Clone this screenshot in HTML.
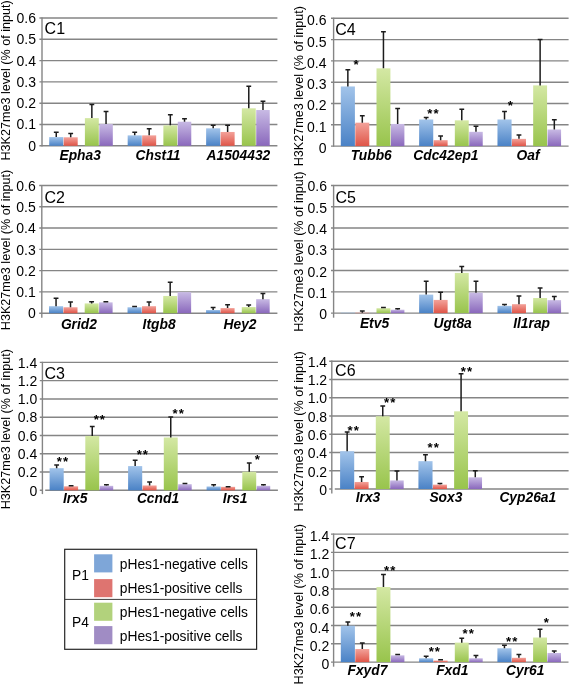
<!DOCTYPE html>
<html><head><meta charset="utf-8"><title>H3K27me3 ChIP</title>
<style>html,body{margin:0;padding:0;background:#fff;}body{width:572px;height:685px;overflow:hidden;}svg{display:block;}text{font-family:"Liberation Sans", Arial, sans-serif;fill:#000;}.tk{font-size:14px;text-anchor:end;}.lb{font-size:13.8px;font-weight:bold;font-style:italic;text-anchor:middle;fill:#000;}.yl{font-size:12.6px;text-anchor:middle;}.tt{font-size:16px;}.st{font-size:13.2px;fill:#000;font-weight:bold;letter-spacing:1.1px;}.lg{font-size:13.8px;}</style></head><body>
<svg width="572" height="685" viewBox="0 0 572 685">
<defs>
<linearGradient id="gb" x1="0" y1="0" x2="0" y2="1"><stop offset="0" stop-color="#a2c4ea"/><stop offset="1" stop-color="#4a82c6"/></linearGradient>
<linearGradient id="gr" x1="0" y1="0" x2="0" y2="1"><stop offset="0" stop-color="#f3a29a"/><stop offset="1" stop-color="#df5548"/></linearGradient>
<linearGradient id="gg" x1="0" y1="0" x2="0" y2="1"><stop offset="0" stop-color="#d4e8a4"/><stop offset="1" stop-color="#98c44c"/></linearGradient>
<linearGradient id="gp" x1="0" y1="0" x2="0" y2="1"><stop offset="0" stop-color="#c8bae4"/><stop offset="1" stop-color="#8a68bc"/></linearGradient>
</defs>
<rect width="572" height="685" fill="#fff"/>
<text class="tk" x="36" y="146.3" dy="0.32em">0</text>
<text class="tk" x="36" y="125" dy="0.32em">0.1</text>
<text class="tk" x="36" y="103.7" dy="0.32em">0.2</text>
<text class="tk" x="36" y="82.4" dy="0.32em">0.3</text>
<text class="tk" x="36" y="61.1" dy="0.32em">0.4</text>
<text class="tk" x="36" y="39.8" dy="0.32em">0.5</text>
<text class="tk" x="36" y="18.5" dy="0.32em">0.6</text>
<path d="M39.4 145.8H277.4M39.4 124.5H277.4M39.4 103.2H277.4M39.4 81.9H277.4M39.4 60.6H277.4M39.4 39.3H277.4M39.4 18H277.4" stroke="#858585" stroke-width="1.4" fill="none"/>
<path d="M42 17.4V146.4" stroke="#858585" stroke-width="1.4"/>
<text class="tt" x="44.6" y="33.9">C1</text>
<rect x="49.2" y="137.07" width="14.1" height="8.73" fill="url(#gb)"/>
<rect x="63.7" y="137.28" width="14" height="8.52" fill="url(#gr)"/>
<rect x="84.9" y="118.11" width="13.9" height="27.69" fill="url(#gg)"/>
<rect x="99.3" y="124.07" width="13.5" height="21.73" fill="url(#gp)"/>
<rect x="127.67" y="135.36" width="14.1" height="10.44" fill="url(#gb)"/>
<rect x="142.17" y="135.36" width="14" height="10.44" fill="url(#gr)"/>
<rect x="163.37" y="125.35" width="13.9" height="20.45" fill="url(#gg)"/>
<rect x="177.77" y="121.73" width="13.5" height="24.07" fill="url(#gp)"/>
<rect x="206.13" y="128.33" width="14.1" height="17.47" fill="url(#gb)"/>
<rect x="220.63" y="131.96" width="14" height="13.84" fill="url(#gr)"/>
<rect x="241.83" y="108.31" width="13.9" height="37.49" fill="url(#gg)"/>
<rect x="256.23" y="110.02" width="13.5" height="35.78" fill="url(#gp)"/>
<path d="M56.25 137.07V132.17M53.85 132.17H58.65M70.7 137.28V133.45M68.3 133.45H73.1M91.85 118.11V104.48M89.45 104.48H94.25M106.05 124.07V111.51M103.65 111.51H108.45M134.72 135.36V132.17M132.32 132.17H137.12M149.17 135.36V128.76M146.77 128.76H151.57M170.32 125.35V114.7M167.92 114.7H172.72M184.52 121.73V118.75M182.12 118.75H186.92M213.18 128.33V125.14M210.78 125.14H215.58M227.63 131.96V125.14M225.23 125.14H230.03M248.78 108.31V86.37M246.38 86.37H251.18M262.98 110.02V101.28M260.58 101.28H265.38" stroke="#1c1c1c" stroke-width="1.5" fill="none"/>
<text class="lb" x="80.2" y="159.8">Epha3</text>
<text class="lb" x="158" y="159.8">Chst11</text>
<text class="lb" x="238.4" y="159.8">A1504432</text>
<text class="yl" transform="translate(10 80.45) rotate(-90)">H3K27me3 level (% of input)</text>
<text class="tk" x="35.8" y="314" dy="0.32em">0</text>
<text class="tk" x="35.8" y="292.72" dy="0.32em">0.1</text>
<text class="tk" x="35.8" y="271.43" dy="0.32em">0.2</text>
<text class="tk" x="35.8" y="250.15" dy="0.32em">0.3</text>
<text class="tk" x="35.8" y="228.87" dy="0.32em">0.4</text>
<text class="tk" x="35.8" y="207.58" dy="0.32em">0.5</text>
<text class="tk" x="35.8" y="186.3" dy="0.32em">0.6</text>
<path d="M39.2 313.2H277.4M39.2 291.92H277.4M39.2 270.63H277.4M39.2 249.35H277.4M39.2 228.07H277.4M39.2 206.78H277.4M39.2 185.5H277.4" stroke="#858585" stroke-width="1.4" fill="none"/>
<path d="M41.8 184.9V317.8" stroke="#858585" stroke-width="1.4"/>
<text class="tt" x="44.5" y="203">C2</text>
<rect x="49" y="306.18" width="14.1" height="7.02" fill="url(#gb)"/>
<rect x="63.5" y="307.24" width="14" height="5.96" fill="url(#gr)"/>
<rect x="84.7" y="303.41" width="13.9" height="9.79" fill="url(#gg)"/>
<rect x="99.1" y="302.35" width="13.5" height="10.85" fill="url(#gp)"/>
<rect x="127.53" y="307.24" width="14.1" height="5.96" fill="url(#gb)"/>
<rect x="142.03" y="306.18" width="14" height="7.02" fill="url(#gr)"/>
<rect x="163.23" y="295.96" width="13.9" height="17.24" fill="url(#gg)"/>
<rect x="177.63" y="292.13" width="13.5" height="21.07" fill="url(#gp)"/>
<rect x="206.07" y="310.01" width="14.1" height="3.19" fill="url(#gb)"/>
<rect x="220.57" y="308.09" width="14" height="5.11" fill="url(#gr)"/>
<rect x="241.77" y="307.03" width="13.9" height="6.17" fill="url(#gg)"/>
<rect x="256.17" y="299.15" width="13.5" height="14.05" fill="url(#gp)"/>
<path d="M56.05 306.18V298.3M53.65 298.3H58.45M70.5 307.24V301.92M68.1 301.92H72.9M91.65 303.41V301.71M89.25 301.71H94.05M105.85 302.35V301.71M103.45 301.71H108.25M134.58 307.24V306.6M132.18 306.6H136.98M149.03 306.18V301.92M146.63 301.92H151.43M170.18 295.96V282.34M167.78 282.34H172.58M213.12 310.01V307.45M210.72 307.45H215.52M227.57 308.09V304.69M225.17 304.69H229.97M248.72 307.03V304.9M246.32 304.9H251.12M262.92 299.15V293.41M260.52 293.41H265.32" stroke="#1c1c1c" stroke-width="1.5" fill="none"/>
<text class="lb" x="78.9" y="328.5">Grid2</text>
<text class="lb" x="159.1" y="328.5">Itgb8</text>
<text class="lb" x="240" y="328.5">Hey2</text>
<text class="yl" transform="translate(10 250) rotate(-90)">H3K27me3 level (% of input)</text>
<text class="tk" x="37.2" y="491.1" dy="0.32em">0</text>
<text class="tk" x="37.2" y="472.83" dy="0.32em">0.2</text>
<text class="tk" x="37.2" y="454.56" dy="0.32em">0.4</text>
<text class="tk" x="37.2" y="436.29" dy="0.32em">0.6</text>
<text class="tk" x="37.2" y="418.01" dy="0.32em">0.8</text>
<text class="tk" x="37.2" y="399.74" dy="0.32em">1.0</text>
<text class="tk" x="37.2" y="381.47" dy="0.32em">1.2</text>
<text class="tk" x="37.2" y="363.2" dy="0.32em">1.4</text>
<path d="M39.8 490.3H42.4M45.2 490.3H277.9M39.8 472.03H277.9M39.8 453.76H277.9M39.8 435.49H277.9M39.8 417.21H277.9M39.8 398.94H277.9M39.8 380.67H277.9M39.8 362.4H277.9" stroke="#858585" stroke-width="1.4" fill="none"/>
<path d="M42.4 361.8V494.1" stroke="#858585" stroke-width="1.4"/>
<text class="tt" x="44.5" y="378.7">C3</text>
<rect x="49.6" y="468.19" width="14.1" height="22.11" fill="url(#gb)"/>
<rect x="64.1" y="486.28" width="14" height="4.02" fill="url(#gr)"/>
<rect x="85.3" y="435.94" width="13.9" height="54.36" fill="url(#gg)"/>
<rect x="99.7" y="485.82" width="13.5" height="4.48" fill="url(#gp)"/>
<rect x="128.1" y="466.09" width="14.1" height="24.21" fill="url(#gb)"/>
<rect x="142.6" y="485.46" width="14" height="4.84" fill="url(#gr)"/>
<rect x="163.8" y="437.5" width="13.9" height="52.8" fill="url(#gg)"/>
<rect x="178.2" y="484.18" width="13.5" height="6.12" fill="url(#gp)"/>
<rect x="206.6" y="486.46" width="14.1" height="3.84" fill="url(#gb)"/>
<rect x="221.1" y="486.83" width="14" height="3.47" fill="url(#gr)"/>
<rect x="242.3" y="471.75" width="13.9" height="18.55" fill="url(#gg)"/>
<rect x="256.7" y="485.82" width="13.5" height="4.48" fill="url(#gp)"/>
<path d="M56.65 468.19V464.9M54.25 464.9H59.05M71.1 486.28V485.82M68.7 485.82H73.5M92.25 435.94V426.53M89.85 426.53H94.65M106.45 485.82V484.73M104.05 484.73H108.85M135.15 466.09V460.33M132.75 460.33H137.55M149.6 485.46V481.9M147.2 481.9H152M170.75 437.5V417.12M168.35 417.12H173.15M184.95 484.18V483.45M182.55 483.45H187.35M213.65 486.46V484.64M211.25 484.64H216.05M228.1 486.83V486.65M225.7 486.65H230.5M249.25 471.75V462.89M246.85 462.89H251.65M263.45 485.82V484.64M261.05 484.64H265.85" stroke="#1c1c1c" stroke-width="1.5" fill="none"/>
<text class="lb" x="75.2" y="503">Irx5</text>
<text class="lb" x="158" y="503">Ccnd1</text>
<text class="lb" x="235.1" y="503">Irs1</text>
<text class="st" x="56.84" y="458.9" dy="0.515em">**</text>
<text class="st" x="93.64" y="417.65" dy="0.515em">**</text>
<text class="st" x="136.64" y="452.25" dy="0.515em">**</text>
<text class="st" x="172.44" y="410.8" dy="0.515em">**</text>
<text class="st" x="254.74" y="456.95" dy="0.515em">*</text>
<text class="yl" transform="translate(10 429.2) rotate(-90)">H3K27me3 level (% of input)</text>
<text class="tk" x="326.5" y="148.6" dy="0.32em">0</text>
<text class="tk" x="326.5" y="127.3" dy="0.32em">0.1</text>
<text class="tk" x="326.5" y="106" dy="0.32em">0.2</text>
<text class="tk" x="326.5" y="84.7" dy="0.32em">0.3</text>
<text class="tk" x="326.5" y="63.4" dy="0.32em">0.4</text>
<text class="tk" x="326.5" y="42.1" dy="0.32em">0.5</text>
<text class="tk" x="326.5" y="20.8" dy="0.32em">0.6</text>
<path d="M331 146.1H568.6M331 124.8H568.6M331 103.5H568.6M331 82.2H568.6M331 60.9H568.6M331 39.6H568.6M331 18.3H568.6" stroke="#858585" stroke-width="1.4" fill="none"/>
<path d="M333.6 17.7V146.7" stroke="#858585" stroke-width="1.4"/>
<text class="tt" x="335.3" y="35.1">C4</text>
<rect x="340.8" y="86.46" width="14.1" height="59.64" fill="url(#gb)"/>
<rect x="355.3" y="122.67" width="14" height="23.43" fill="url(#gr)"/>
<rect x="376.5" y="68.35" width="13.9" height="77.75" fill="url(#gg)"/>
<rect x="390.9" y="123.95" width="13.5" height="22.15" fill="url(#gp)"/>
<rect x="419.13" y="119.47" width="14.1" height="26.62" fill="url(#gb)"/>
<rect x="433.63" y="140.14" width="14" height="5.96" fill="url(#gr)"/>
<rect x="454.83" y="120.33" width="13.9" height="25.77" fill="url(#gg)"/>
<rect x="469.23" y="131.83" width="13.5" height="14.27" fill="url(#gp)"/>
<rect x="497.47" y="119.47" width="14.1" height="26.62" fill="url(#gb)"/>
<rect x="511.97" y="138.86" width="14" height="7.24" fill="url(#gr)"/>
<rect x="533.17" y="85.39" width="13.9" height="60.7" fill="url(#gg)"/>
<rect x="547.57" y="129.49" width="13.5" height="16.61" fill="url(#gp)"/>
<path d="M347.85 86.46V69.85M345.45 69.85H350.25M362.3 122.67V115.64M359.9 115.64H364.7M383.45 68.35V31.72M381.05 31.72H385.85M397.65 123.95V108.4M395.25 108.4H400.05M426.18 119.47V117.56M423.78 117.56H428.58M440.63 140.14V135.88M438.23 135.88H443.03M461.78 120.33V109.25M459.38 109.25H464.18M475.98 131.83V126.29M473.58 126.29H478.38M504.52 119.47V111.38M502.12 111.38H506.92M518.97 138.86V135.02M516.57 135.02H521.37M540.12 85.39V39.6M537.72 39.6H542.52M554.32 129.49V119.69M551.92 119.69H556.72" stroke="#1c1c1c" stroke-width="1.5" fill="none"/>
<text class="lb" x="371.2" y="160">Tubb6</text>
<text class="lb" x="445.9" y="160">Cdc42ep1</text>
<text class="lb" x="528.1" y="160">Oaf</text>
<text class="st" x="353.44" y="62.2" dy="0.515em">*</text>
<text class="st" x="427.24" y="110.95" dy="0.515em">**</text>
<text class="st" x="507.84" y="102.9" dy="0.515em">*</text>
<text class="yl" transform="translate(303 86.2) rotate(-90)">H3K27me3 level (% of input)</text>
<text class="tk" x="327" y="314.6" dy="0.32em">0</text>
<text class="tk" x="327" y="293.33" dy="0.32em">0.1</text>
<text class="tk" x="327" y="272.07" dy="0.32em">0.2</text>
<text class="tk" x="327" y="250.8" dy="0.32em">0.3</text>
<text class="tk" x="327" y="229.53" dy="0.32em">0.4</text>
<text class="tk" x="327" y="208.27" dy="0.32em">0.5</text>
<text class="tk" x="327" y="187" dy="0.32em">0.6</text>
<path d="M331 313.1H568.6M331 291.83H568.6M331 270.57H568.6M331 249.3H568.6M331 228.03H568.6M331 206.77H568.6M331 185.5H568.6" stroke="#858585" stroke-width="1.4" fill="none"/>
<path d="M333.6 184.9V317.7" stroke="#858585" stroke-width="1.4"/>
<text class="tt" x="335.4" y="203">C5</text>
<rect x="340.8" y="312.67" width="14.1" height="0.43" fill="url(#gb)"/>
<rect x="355.3" y="312.67" width="14" height="0.43" fill="url(#gr)"/>
<rect x="376.5" y="308.21" width="13.9" height="4.89" fill="url(#gg)"/>
<rect x="390.9" y="309.7" width="13.5" height="3.4" fill="url(#gp)"/>
<rect x="419.13" y="294.6" width="14.1" height="18.5" fill="url(#gb)"/>
<rect x="433.63" y="299.91" width="14" height="13.19" fill="url(#gr)"/>
<rect x="454.83" y="272.91" width="13.9" height="40.19" fill="url(#gg)"/>
<rect x="469.23" y="292.68" width="13.5" height="20.42" fill="url(#gp)"/>
<rect x="497.47" y="305.87" width="14.1" height="7.23" fill="url(#gb)"/>
<rect x="511.97" y="304.17" width="14" height="8.93" fill="url(#gr)"/>
<rect x="533.17" y="298" width="13.9" height="15.1" fill="url(#gg)"/>
<rect x="547.57" y="300.13" width="13.5" height="12.97" fill="url(#gp)"/>
<path d="M362.3 312.67V310.97M359.9 310.97H364.7M383.45 308.21V307.57M381.05 307.57H385.85M397.65 309.7V308.63M395.25 308.63H400.05M426.18 294.6V281.2M423.78 281.2H428.58M440.63 299.91V292.26M438.23 292.26H443.03M461.78 272.91V266.53M459.38 266.53H464.18M475.98 292.68V281.2M473.58 281.2H478.38M504.52 305.87V304.59M502.12 304.59H506.92M518.97 304.17V296.09M516.57 296.09H521.37M540.12 298V288.01M537.72 288.01H542.52M554.32 300.13V296.51M551.92 296.51H556.72" stroke="#1c1c1c" stroke-width="1.5" fill="none"/>
<text class="lb" x="374.5" y="328.3">Etv5</text>
<text class="lb" x="452.6" y="328.3">Ugt8a</text>
<text class="lb" x="531.6" y="328.3">Il1rap</text>
<text class="yl" transform="translate(303 251.6) rotate(-90)">H3K27me3 level (% of input)</text>
<text class="tk" x="327.1" y="490.3" dy="0.32em">0</text>
<text class="tk" x="327.1" y="472.04" dy="0.32em">0.2</text>
<text class="tk" x="327.1" y="453.79" dy="0.32em">0.4</text>
<text class="tk" x="327.1" y="435.53" dy="0.32em">0.6</text>
<text class="tk" x="327.1" y="417.27" dy="0.32em">0.8</text>
<text class="tk" x="327.1" y="399.01" dy="0.32em">1.0</text>
<text class="tk" x="327.1" y="380.76" dy="0.32em">1.2</text>
<text class="tk" x="327.1" y="362.5" dy="0.32em">1.4</text>
<path d="M329.2 489H331.8M334.8 489H568.6M329.2 470.74H568.6M329.2 452.49H568.6M329.2 434.23H568.6M329.2 415.97H568.6M329.2 397.71H568.6M329.2 379.46H568.6M329.2 361.2H568.6" stroke="#858585" stroke-width="1.4" fill="none"/>
<path d="M331.8 360.6V493.6" stroke="#858585" stroke-width="1.4"/>
<text class="tt" x="335.1" y="375.9">C6</text>
<rect x="340.1" y="451.21" width="14.1" height="37.79" fill="url(#gb)"/>
<rect x="354.6" y="481.97" width="14" height="7.03" fill="url(#gr)"/>
<rect x="375.8" y="416.25" width="13.9" height="72.75" fill="url(#gg)"/>
<rect x="390.2" y="480.42" width="13.5" height="8.58" fill="url(#gp)"/>
<rect x="418.43" y="461.16" width="14.1" height="27.84" fill="url(#gb)"/>
<rect x="432.93" y="484.62" width="14" height="4.38" fill="url(#gr)"/>
<rect x="454.13" y="411.32" width="13.9" height="77.68" fill="url(#gg)"/>
<rect x="468.53" y="477.32" width="13.5" height="11.68" fill="url(#gp)"/>
<path d="M347.15 451.21V432.04M344.75 432.04H349.55M361.6 481.97V476.77M359.2 476.77H364M382.75 416.25V405.93M380.35 405.93H385.15M396.95 480.42V471.02M394.55 471.02H399.35M425.48 461.16V454.68M423.08 454.68H427.88M439.93 484.62V483.61M437.53 483.61H442.33M461.08 411.32V373.8M458.68 373.8H463.48M475.28 477.32V470.74M472.88 470.74H477.68" stroke="#1c1c1c" stroke-width="1.5" fill="none"/>
<text class="lb" x="368" y="501.6">Irx3</text>
<text class="lb" x="445.9" y="501.6">Sox3</text>
<text class="lb" x="527.8" y="501.6">Cyp26a1</text>
<text class="st" x="347.54" y="427.95" dy="0.515em">**</text>
<text class="st" x="383.94" y="400.3" dy="0.515em">**</text>
<text class="st" x="427.44" y="445.45" dy="0.515em">**</text>
<text class="st" x="460.84" y="369.25" dy="0.515em">**</text>
<text class="yl" transform="translate(303 431.4) rotate(-90)">H3K27me3 level (% of input)</text>
<text class="tk" x="329.3" y="664.6" dy="0.32em">0</text>
<text class="tk" x="329.3" y="646.31" dy="0.32em">0.2</text>
<text class="tk" x="329.3" y="628.03" dy="0.32em">0.4</text>
<text class="tk" x="329.3" y="609.74" dy="0.32em">0.6</text>
<text class="tk" x="329.3" y="591.46" dy="0.32em">0.8</text>
<text class="tk" x="329.3" y="573.17" dy="0.32em">1.0</text>
<text class="tk" x="329.3" y="554.89" dy="0.32em">1.2</text>
<text class="tk" x="329.3" y="536.6" dy="0.32em">1.4</text>
<path d="M331 662.1H568.5M331 643.81H568.5M331 625.53H568.5M331 607.24H568.5M331 588.96H568.5M331 570.67H568.5M331 552.39H568.5M331 534.1H568.5" stroke="#858585" stroke-width="1.4" fill="none"/>
<path d="M333.6 533.5V666.7" stroke="#858585" stroke-width="1.4"/>
<text class="tt" x="335.1" y="549.1">C7</text>
<rect x="340.8" y="625.71" width="14.1" height="36.39" fill="url(#gb)"/>
<rect x="355.3" y="649.03" width="14" height="13.07" fill="url(#gr)"/>
<rect x="376.5" y="587.04" width="13.9" height="75.06" fill="url(#gg)"/>
<rect x="390.9" y="655.33" width="13.5" height="6.77" fill="url(#gp)"/>
<rect x="419.1" y="658.26" width="14.1" height="3.84" fill="url(#gb)"/>
<rect x="433.6" y="660.55" width="14" height="1.55" fill="url(#gr)"/>
<rect x="454.8" y="642.63" width="13.9" height="19.47" fill="url(#gg)"/>
<rect x="469.2" y="658.26" width="13.5" height="3.84" fill="url(#gp)"/>
<rect x="497.4" y="648.29" width="14.1" height="13.81" fill="url(#gb)"/>
<rect x="511.9" y="657.8" width="14" height="4.3" fill="url(#gr)"/>
<rect x="533.1" y="637.51" width="13.9" height="24.59" fill="url(#gg)"/>
<rect x="547.5" y="652.96" width="13.5" height="9.14" fill="url(#gp)"/>
<path d="M347.85 625.71V621.96M345.45 621.96H350.25M362.3 649.03V642.9M359.9 642.9H364.7M383.45 587.04V574.51M381.05 574.51H385.85M397.65 655.33V654.6M395.25 654.6H400.05M426.15 658.26V656.16M423.75 656.16H428.55M440.6 660.55V659.81M438.2 659.81H443M461.75 642.63V638.33M459.35 638.33H464.15M475.95 658.26V655.61M473.55 655.61H478.35M504.45 648.29V645.28M502.05 645.28H506.85M518.9 657.8V654.51M516.5 654.51H521.3M540.05 637.51V629.19M537.65 629.19H542.45M554.25 652.96V651.04M551.85 651.04H556.65" stroke="#1c1c1c" stroke-width="1.5" fill="none"/>
<text class="lb" x="367.4" y="675.3">Fxyd7</text>
<text class="lb" x="452.3" y="675.3">Fxd1</text>
<text class="lb" x="525.2" y="675.3">Cyr61</text>
<text class="st" x="349.84" y="614.5" dy="0.515em">**</text>
<text class="st" x="383.94" y="568.65" dy="0.515em">**</text>
<text class="st" x="428.64" y="649.55" dy="0.515em">**</text>
<text class="st" x="462.44" y="631.6" dy="0.515em">**</text>
<text class="st" x="506.04" y="639.45" dy="0.515em">**</text>
<text class="st" x="543.64" y="619.9" dy="0.515em">*</text>
<text class="yl" transform="translate(303 604.3) rotate(-90)">H3K27me3 level (% of input)</text>
<rect x="64.7" y="549.3" width="191.9" height="100" fill="none" stroke="#262626" stroke-width="1.2"/>
<path d="M64.7 599.4H256.6" stroke="#3a3a3a" stroke-width="1"/>
<rect x="94.1" y="554.3" width="18.3" height="18.1" fill="#7ea6d8"/>
<rect x="94.1" y="579.1" width="18.3" height="18.1" fill="#de7470"/>
<rect x="94.1" y="602.7" width="18.3" height="18.1" fill="#b2d27c"/>
<rect x="94.1" y="626.1" width="18.3" height="18.1" fill="#a08cc4"/>
<text class="lg" x="72" y="580.4">P1</text>
<text class="lg" x="72" y="627.4">P4</text>
<text class="lg" x="119.8" y="568.7">pHes1-negative cells</text>
<text class="lg" x="119.8" y="593">pHes1-positive cells</text>
<text class="lg" x="119.8" y="616.7">pHes1-negative cells</text>
<text class="lg" x="119.8" y="640.5">pHes1-positive cells</text>
</svg></body></html>
